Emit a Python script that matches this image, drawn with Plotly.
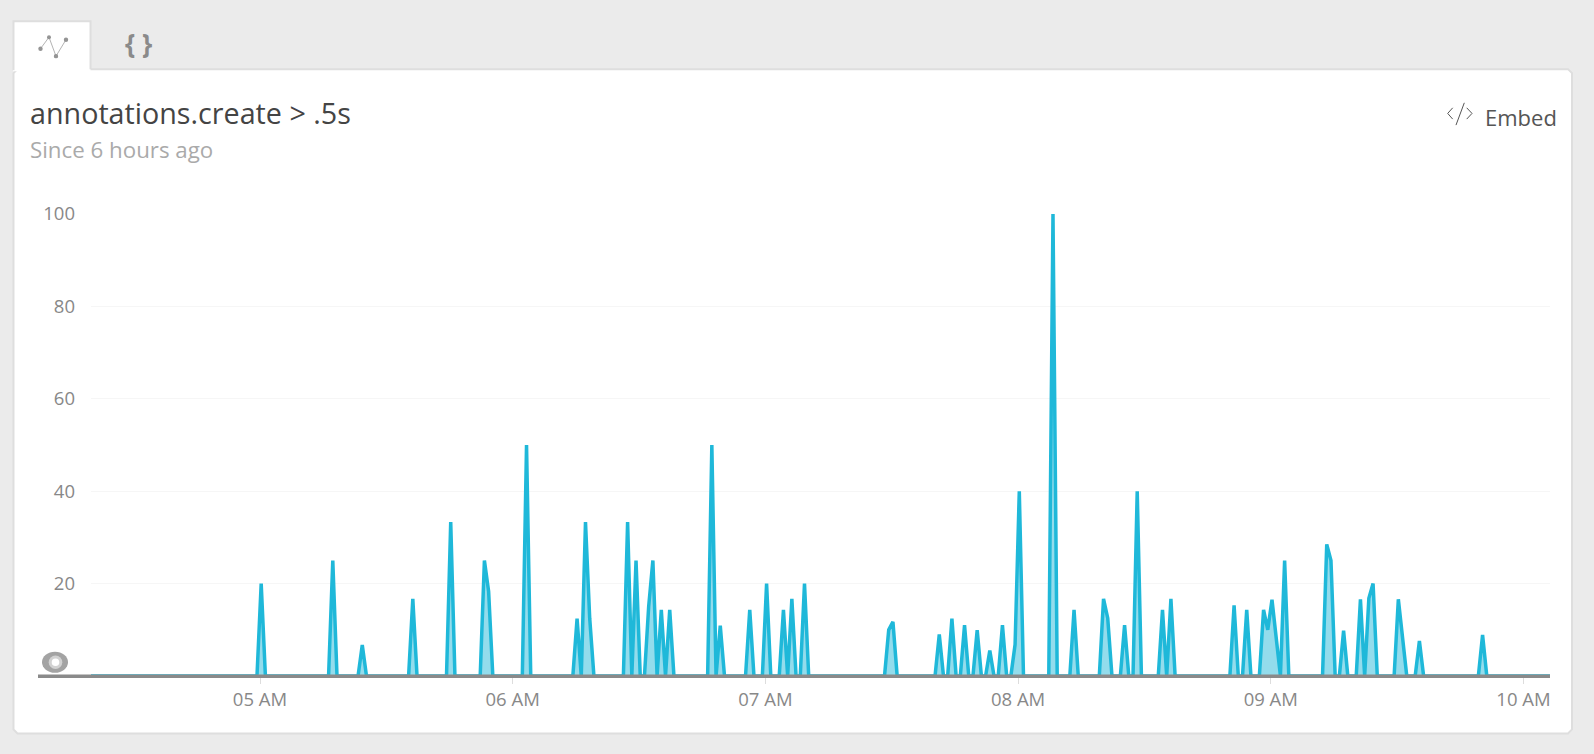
import datetime as dt
import numpy as np
import plotly.graph_objects as go

# Spikes: minutes after 05:00 and their values; all other minutes are zero
spike_minutes = [0, 17, 24, 36, 45, 53, 54, 63, 75, 77, 78, 87, 89, 92, 93, 95, 97,
                 107, 109, 116, 120, 124, 126, 129, 149, 150, 161, 164, 167, 170, 173, 176,
                 179, 180, 188, 193, 200, 201, 205, 208, 214, 216, 231, 234, 238, 239, 240, 241,
                 243, 253, 254, 257, 261, 263, 264, 270, 271, 275, 290]
spike_values = [20, 25, 6.7, 16.7, 33.3, 25, 18.3, 50, 12.4, 33.3, 12.5, 33.3, 25, 15, 25, 14.3, 14.3,
                50, 10.9, 14.3, 20, 14.3, 16.7, 20, 10, 11.7, 9, 12.4, 11, 9.9, 5.5, 11,
                6.8, 40, 100, 14.3, 16.7, 12.5, 11, 40, 14.3, 16.7, 15.3, 14.3, 14.3, 10, 16.5, 8.2,
                25, 28.5, 25, 9.8, 16.6, 16.8, 20, 16.6, 8.9, 7.6, 8.9]
first_minute = -53
last_minute = 306
tick_hours = [5, 6, 7, 8, 9, 10]
tick_labels = ["05 AM", "06 AM", "07 AM", "08 AM", "09 AM", "10 AM"]
y_ticks = [20, 40, 60, 80, 100]

TITLE = "annotations.create > .5s"
SUBTITLE = "Since 6 hours ago"

BASE = dt.datetime(2017, 1, 1, 5, 0, 0)
minutes = np.arange(first_minute, last_minute + 1)
values = np.zeros(len(minutes))
values[np.array(spike_minutes) - first_minute] = spike_values
times = [BASE + dt.timedelta(seconds=int(m) * 60 + 17) for m in minutes]

# plot box in page pixels
L, R, T, B = 91.0, 1550.0, 214.0, 676.5
W, H = 1594, 754
HOUR_PX = 252.7


def px(x):
    return (x - L) / (R - L)


def py(y):
    return (B - y) / (B - T)


def path(points, close=False):
    s = "M" + " L".join(f"{px(x):.5f},{py(y):.5f}" for x, y in points)
    return s + (" Z" if close else "")


def rounded(x0, y0, x1, y1, r):
    seq = [(x0 + r, y0), (x1 - r, y0), (x1, y0 + r), (x1, y1 - r), (x1 - r, y1), (x0 + r, y1), (x0, y1 - r), (x0, y0 + r)]
    return path(seq, True)


def paper_shape(kind, **kw):
    return dict(type=kind, xref="paper", yref="paper", **kw)


def ellipse(cx, cy, rx, ry, fill):
    return paper_shape("circle", x0=px(cx - rx), x1=px(cx + rx), y0=py(cy + ry), y1=py(cy - ry),
                       fillcolor=fill, line=dict(width=0))


ICON = "#949494"
shapes = [
    paper_shape("path", path=rounded(13.5, 69, 1572, 734, 4), fillcolor="white", line=dict(color="#dedede", width=2), layer="below"),
    paper_shape("rect", x0=px(13), x1=px(90.5), y0=py(71), y1=py(21), fillcolor="white", line=dict(width=0), layer="below"),
    paper_shape("path", path=path([(13.5, 70), (13.5, 21), (90.5, 21), (90.5, 69)]), line=dict(color="#dedede", width=2), layer="below"),
    # chart icon in the tab
    paper_shape("path", path=path([(40.5, 48.5), (49, 37), (56, 56), (66, 39.5)]), line=dict(color="#a0a0a0", width=0.8)),
    ellipse(40.5, 48.5, 2.2, 2.2, ICON),
    ellipse(49, 37, 2, 2, ICON),
    ellipse(56, 56, 2.2, 2.2, ICON),
    ellipse(66, 39.5, 2.2, 2.2, ICON),
    # embed icon
    paper_shape("path", path=path([(1452.7, 107.7), (1447.7, 113.3), (1452.7, 119)]), line=dict(color="#555555", width=1)),
    paper_shape("path", path=path([(1464.3, 102.7), (1456, 125)]), line=dict(color="#555555", width=1)),
    paper_shape("path", path=path([(1466.7, 107.7), (1472, 113.3), (1466.7, 119)]), line=dict(color="#555555", width=1)),
    # baseline
    paper_shape("line", x0=px(38), x1=1, y0=py(676.8), y1=py(676.8), line=dict(color="#8a8a8a", width=3.6)),
    # annotation marker
    ellipse(55, 662.7, 13, 10.5, "#a3a3a3"),
    ellipse(55.5, 662.7, 6.8, 6.8, "#d2d2d2"),
    ellipse(55.5, 662.7, 3.8, 3.8, "#ffffff"),
]


def text(x, y, s, size, color, anchor="left", family="Open Sans"):
    return dict(xref="paper", yref="paper", x=px(x), y=py(y), text=s, showarrow=False,
                xanchor=anchor, yanchor="middle", font=dict(family=family, size=size, color=color))


annotations = [
    text(27.5, 112.5, TITLE, 28.7, "#444444"),
    text(27.5, 149, SUBTITLE, 22.3, "#aaaaaa"),
    text(1482.5, 117, "Embed", 22, "#555555"),
    text(138, 42.5, "<b>{ }</b>", 26, "#8a8a8a", anchor="center"),
]

fig = go.Figure(go.Scatter(
    x=times, y=values, mode="lines", fill="tozeroy",
    fillcolor="#93dcec", line=dict(color="#1fb8d9", width=3.5), hoverinfo="skip",
))
range_start = BASE + dt.timedelta(hours=(L - 260.0) / HOUR_PX)
range_end = BASE + dt.timedelta(hours=(R - 260.0) / HOUR_PX)
fig.update_layout(
    width=W, height=H, autosize=False,
    margin=dict(l=L, r=W - R, t=T, b=H - B, pad=0),
    paper_bgcolor="#ebebeb", plot_bgcolor="rgba(0,0,0,0)",
    showlegend=False, shapes=shapes, annotations=annotations,
    font=dict(family="Open Sans", size=18, color="#888888"),
    xaxis=dict(
        type="date", range=[range_start, range_end],
        tickvals=[BASE + dt.timedelta(hours=h - 5) for h in tick_hours], ticktext=tick_labels,
        ticks="outside", ticklen=7, tickwidth=1, tickcolor="#dddddd",
        showgrid=False, zeroline=False, showline=False,
        tickfont=dict(family="Open Sans", size=18.5, color="#888888"),
    ),
    yaxis=dict(
        range=[0, 100], tickvals=y_ticks, showgrid=True, gridcolor="#f6f6f6", gridwidth=1,
        zeroline=False, showline=False, ticks="", ticklabelstandoff=15,
        tickfont=dict(family="Open Sans", size=18.5, color="#888888"),
    ),
)
fig.write_html("out.html", config=dict(displayModeBar=False),
               post_script="document.body.style.margin='0';document.body.style.background='#ebebeb';document.documentElement.style.overflow='hidden';")
